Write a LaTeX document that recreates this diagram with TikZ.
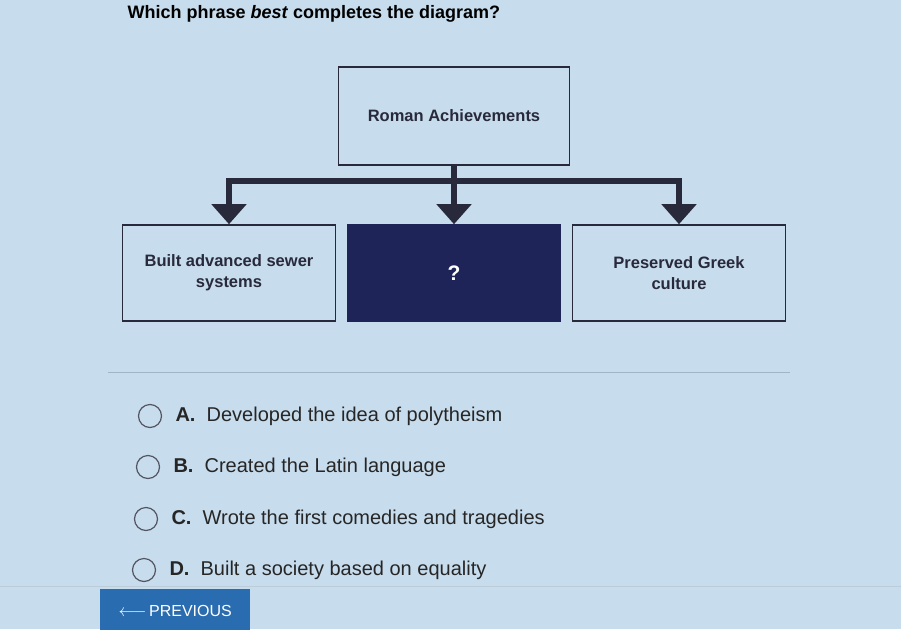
\documentclass[tikz,border=0pt]{standalone}
\usepackage{fontspec}
\setmainfont{Liberation Sans}
\usetikzlibrary{arrows.meta}

\definecolor{screenbg}{RGB}{199,220,236}
\definecolor{inkline}{RGB}{40,42,60}
\definecolor{navybox}{RGB}{30,36,88}
\definecolor{btnblue}{RGB}{42,108,176}
\definecolor{rulegray}{RGB}{160,182,200}

\tikzset{
    achbox/.style={draw=inkline, line width=1.6pt, fill=screenbg,
        minimum width=213pt, minimum height=96pt, align=center,
        font=\fontsize{16.5}{21}\selectfont\bfseries, text=inkline},
    optcircle/.style={draw=inkline!80, line width=1.2pt, circle,
        minimum size=23pt, inner sep=0pt},
    opttext/.style={anchor=west, font=\fontsize{20}{24}\selectfont, text=black!85}
}

\begin{document}
\begin{tikzpicture}[x=1pt,y=1pt]
    \fill[screenbg] (0,0) rectangle (901,-629);
    \useasboundingbox (0,0) rectangle (901,-629);

    \node[anchor=west, font=\fontsize{18}{21}\selectfont\bfseries] (question) at (124,-14)
        {Which phrase \textit{best} completes the diagram?};

    \node[achbox, minimum width=231pt, minimum height=98pt] (roman) at (454,-116) {Roman Achievements}
        [level distance=157pt, sibling distance=225pt,
         edge from parent/.style={draw=inkline, line width=6pt,
            -{Triangle[width=34pt,length=20pt]}},
         edge from parent path={(\tikzparentnode.south) -- ++(0,-15pt) -| (\tikzchildnode.north)}]
        child { node[achbox] (sewer) {Built advanced sewer\\systems} }
        child { node[achbox, fill=navybox, draw=navybox, text=white,
            font=\fontsize{21}{24}\selectfont\bfseries] (unknown) {?} }
        child { node[achbox] (greek) {Preserved Greek\\culture} };

    \draw[rulegray, line width=0.8pt] (108,-372) -- (790,-372);

    \node[optcircle] (optA) at (150,-416) {};
    \node[opttext] (textA) at (172,-416) {\textbf{A.}\ \ Developed the idea of polytheism};
    \node[optcircle] (optB) at (148,-467) {};
    \node[opttext] (textB) at (170,-467) {\textbf{B.}\ \ Created the Latin language};
    \node[optcircle] (optC) at (146,-519) {};
    \node[opttext] (textC) at (168,-519) {\textbf{C.}\ \ Wrote the first comedies and tragedies};
    \node[optcircle] (optD) at (144,-570) {};
    \node[opttext] (textD) at (166,-570) {\textbf{D.}\ \ Built a society based on equality};

    \draw[rulegray!70, line width=1pt] (0,-586) -- (901,-586);

    \node[fill=btnblue, text=white, minimum width=150pt, minimum height=44pt,
        font=\fontsize{16}{19}\selectfont, anchor=north west] (previous) at (100,-589)
        {$\longleftarrow$\,PREVIOUS};
\end{tikzpicture}
\end{document}
